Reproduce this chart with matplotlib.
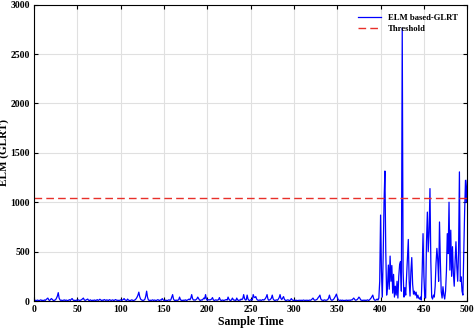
import matplotlib.pyplot as plt
import numpy as np

# GLRT statistic, samples 0..395 (fault-free part)
quiet = [
    2, 5, 8, 4, 10, 6, 3, 9, 12, 5, 7, 4, 11, 6, 15, 22, 30, 12, 6, 14,
    25, 18, 8, 5, 10, 14, 30, 50, 85, 30, 12, 6, 9, 4, 8, 12, 5, 10, 7, 4,
    9, 14, 6, 18, 25, 12, 5, 8, 4, 10, 6, 12, 8, 5, 9, 14, 22, 30, 12, 6,
    10, 15, 20, 8, 5, 12, 7, 4, 9, 6, 11, 5, 8, 14, 6, 10, 18, 12, 5, 9,
    7, 15, 10, 6, 12, 8, 5, 14, 10, 6, 9, 12, 5, 8, 15, 10, 6, 9, 4, 8,
    12, 6, 10, 15, 25, 12, 8, 5, 20, 10, 6, 4, 9, 12, 7, 5, 10, 14, 25, 40,
    60, 90, 45, 20, 12, 8, 6, 10, 18, 50, 100, 40, 12, 6, 9, 5, 8, 12, 6, 10,
    7, 5, 9, 14, 8, 6, 12, 10, 25, 12, 6, 5, 9, 7, 4, 10, 12, 6, 14, 40,
    65, 20, 8, 5, 10, 6, 9, 12, 40, 15, 6, 8, 4, 10, 7, 12, 6, 9, 14, 20,
    12, 30, 65, 25, 10, 12, 8, 15, 22, 40, 25, 10, 6, 12, 9, 18, 30, 22, 65, 20,
    8, 12, 14, 10, 15, 20, 35, 12, 6, 9, 12, 8, 10, 14, 35, 12, 6, 8, 10, 5,
    9, 12, 15, 10, 40, 18, 8, 6, 12, 30, 14, 8, 10, 5, 30, 12, 6, 10, 8, 20,
    14, 25, 65, 25, 10, 12, 60, 20, 8, 6, 12, 14, 10, 65, 40, 35, 45, 20, 10, 8,
    8, 12, 6, 9, 15, 10, 14, 25, 40, 65, 20, 8, 12, 18, 30, 60, 22, 10, 6, 9,
    12, 8, 20, 35, 65, 25, 15, 30, 45, 18, 8, 6, 9, 12, 8, 6, 10, 25, 12, 8,
    6, 10, 5, 8, 4, 7, 6, 9, 5, 8, 6, 10, 7, 5, 9, 6, 8, 5, 10, 7,
    12, 20, 30, 15, 8, 10, 14, 20, 35, 45, 60, 22, 10, 8, 6, 12, 9, 7, 10, 14,
    30, 60, 25, 10, 8, 12, 20, 35, 50, 70, 40, 15, 8, 6, 10, 5, 9, 7, 4, 8,
    6, 10, 5, 8, 9, 6, 12, 10, 20, 30, 18, 8, 10, 15, 25, 40, 30, 12, 8, 6,
    9, 6, 10, 5, 8, 12, 6, 10, 20, 30, 45, 60, 25, 10, 8, 12,
]

# samples 396..500 (faulty part)
faulty = [
    20, 10, 30, 200, 870, 300, 40, 450, 1000, 1316,
    500, 60, 150, 364, 120, 455, 200, 360, 80, 270,
    40, 150, 60, 200, 30, 250, 370, 400, 100, 2760,
    300, 40, 135, 60, 250, 450, 623, 200, 50, 300,
    440, 170, 70, 100, 60, 90, 30, 60, 30, 20,
    40, 10, 300, 682, 250, 40, 30, 600, 900, 500,
    700, 1138, 400, 40, 20, 60, 40, 150, 380, 533,
    415, 200, 800, 400, 95, 30, 145, 60, 20, 100,
    300, 682, 480, 1000, 313, 717, 250, 550, 280, 150,
    400, 600, 350, 200, 500, 1307, 200, 245, 100, 60,
    500, 900, 1222, 1000, 1222,
]

glrt = np.array(quiet + faulty)
t = np.arange(len(glrt))
threshold = 1045

plt.rcParams['font.family'] = ['Liberation Serif', 'DejaVu Serif']
plt.rcParams['font.weight'] = 'bold'

fig = plt.figure(figsize=(4.74, 3.29), dpi=100)
ax = fig.add_axes([0.0717, 0.085, 0.914, 0.901])

ax.plot(t, glrt, color='#0000ff', lw=0.9, label='ELM based-GLRT')
ax.axhline(threshold, color='#e8302a', ls=(0, (5.5, 3)), lw=1.0, label='Threshold')

ax.set_xlim(0, 500)
ax.set_ylim(0, 3000)
ax.set_xticks(np.arange(0, 501, 50))
ax.set_yticks(np.arange(0, 3001, 500))
ax.grid(True, color='#e0e0e0', lw=0.8)
ax.set_axisbelow(True)
ax.tick_params(direction='in', top=True, right=True, labelsize=7, length=3, pad=3)
for lab in ax.get_xticklabels() + ax.get_yticklabels():
    lab.set_fontweight('bold')
for s in ax.spines.values():
    s.set_linewidth(0.8)

ax.set_xlabel('Sample Time', fontsize=8.5, fontweight='bold')
ax.set_ylabel('ELM (GLRT)', fontsize=8, fontweight='bold')
ax.xaxis.set_label_coords(0.5, -0.052)
ax.yaxis.set_label_coords(-0.058, 0.5)

ax.legend(loc='upper right', frameon=False, handlelength=2.6,
          borderaxespad=0.7, labelspacing=0.35,
          prop={'weight': 'bold', 'size': 6.2})

fig.savefig('out.png', dpi=100)
